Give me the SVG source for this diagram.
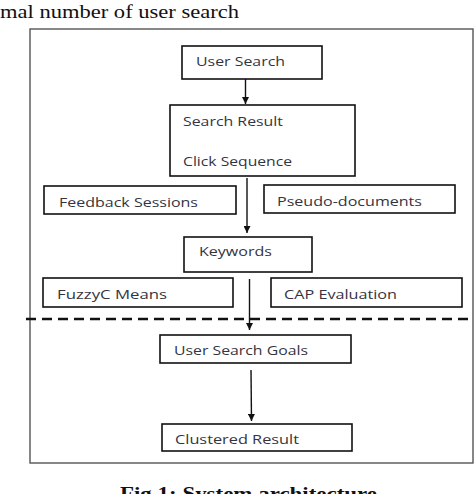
<svg xmlns="http://www.w3.org/2000/svg" width="474" height="494" viewBox="0 0 474 494">
<style>
.box{fill:#fff;stroke:#111;stroke-width:1.6}
.lbl{font-family:"Open Sans","Noto Sans",sans-serif;font-size:13px;fill:#34343f}
.cap{font-family:"Liberation Serif",serif;fill:#111}
.con{stroke:#111;stroke-width:1.4;fill:none}
</style>
<defs>
<marker id="ah" viewBox="0 0 10 10" refX="10" refY="5" markerWidth="7" markerHeight="7" markerUnits="userSpaceOnUse" orient="auto">
<path d="M0,0 L10,5 L0,10 z" fill="#111"/>
</marker>
</defs>
<rect width="474" height="494" fill="#fff"/>
<text class="cap" x="0" y="18" font-size="19" textLength="239" lengthAdjust="spacingAndGlyphs">mal number of user search</text>
<rect id="frame" x="30" y="29" width="443" height="434" fill="none" stroke="#555" stroke-width="1.4"/>
<g id="connectors">
<line class="con" x1="245.5" y1="79" x2="245.5" y2="104" marker-end="url(#ah)"/>
<line class="con" x1="247" y1="178" x2="247" y2="233" marker-end="url(#ah)"/>
<line class="con" x1="249.5" y1="279" x2="249.5" y2="330" marker-end="url(#ah)"/>
<line class="con" x1="251" y1="370" x2="251.5" y2="421" marker-end="url(#ah)"/>
</g>
<line id="divider" x1="26" y1="319" x2="474" y2="319" stroke="#111" stroke-width="2.4" stroke-dasharray="10,6"/>
<g id="n-user-search"><rect class="box" x="182" y="46" width="140" height="33"/><text class="lbl" x="196" y="66" textLength="89" lengthAdjust="spacingAndGlyphs">User Search</text></g>
<g id="n-search-result"><rect class="box" x="170" y="105" width="185" height="71"/><text class="lbl" x="183" y="126" textLength="100" lengthAdjust="spacingAndGlyphs">Search Result</text><text class="lbl" x="183" y="166" textLength="109" lengthAdjust="spacingAndGlyphs">Click Sequence</text></g>
<g id="n-feedback"><rect class="box" x="44" y="186" width="192" height="28"/><text class="lbl" x="59" y="207" textLength="139" lengthAdjust="spacingAndGlyphs">Feedback Sessions</text></g>
<g id="n-pseudo"><rect class="box" x="264" y="185" width="191" height="28"/><text class="lbl" x="277" y="206" textLength="145" lengthAdjust="spacingAndGlyphs">Pseudo-documents</text></g>
<g id="n-keywords"><rect class="box" x="184" y="237" width="128" height="35"/><text class="lbl" x="199" y="256" textLength="73" lengthAdjust="spacingAndGlyphs">Keywords</text></g>
<g id="n-fuzzy"><rect class="box" x="43" y="278" width="190" height="29"/><text class="lbl" x="57" y="299" textLength="110" lengthAdjust="spacingAndGlyphs">FuzzyC Means</text></g>
<g id="n-cap"><rect class="box" x="271" y="278" width="191" height="29"/><text class="lbl" x="284" y="299" textLength="113" lengthAdjust="spacingAndGlyphs">CAP Evaluation</text></g>
<g id="n-goals"><rect class="box" x="160" y="335" width="191" height="28"/><text class="lbl" x="174" y="355" textLength="134" lengthAdjust="spacingAndGlyphs">User Search Goals</text></g>
<g id="n-clustered"><rect class="box" x="162" y="424" width="190" height="27"/><text class="lbl" x="175" y="444" textLength="124" lengthAdjust="spacingAndGlyphs">Clustered Result</text></g>
<text class="cap" x="120" y="500" font-size="19" font-weight="bold" textLength="257" lengthAdjust="spacingAndGlyphs">Fig 1: System architecture</text>
</svg>
